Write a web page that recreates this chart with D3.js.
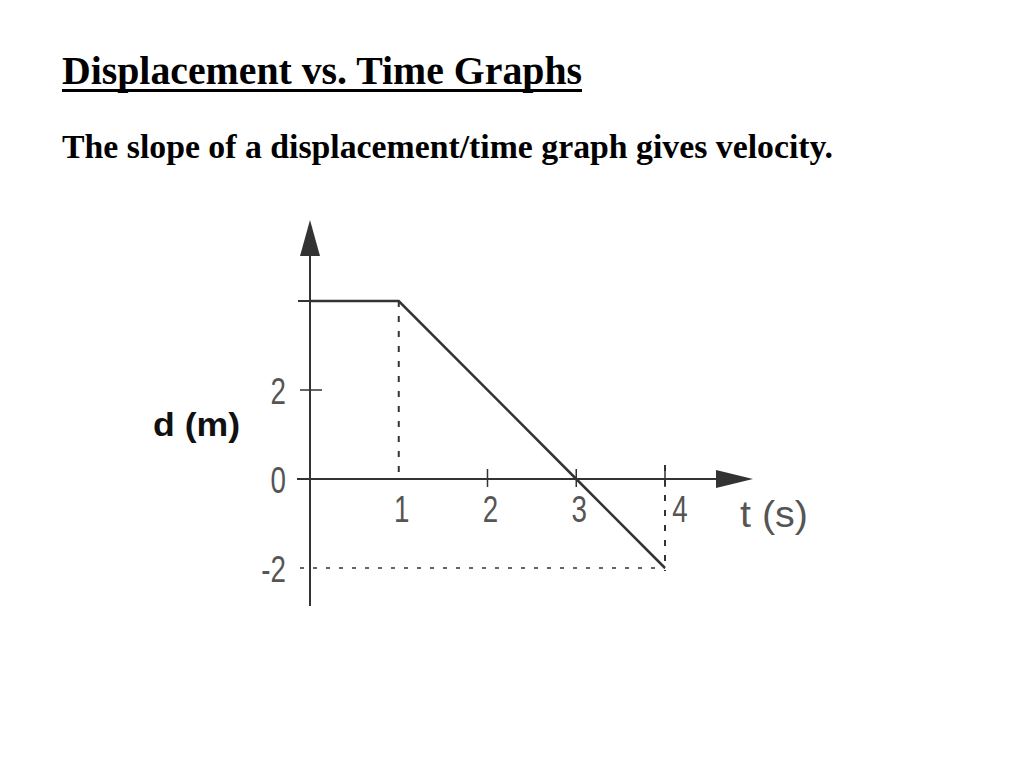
<!DOCTYPE html>
<html>

<head>
  <meta charset="utf-8">
  <title>Displacement vs. Time Graphs</title>
  <style>
    body { margin: 0; background: #fff; }
  </style>
</head>

<body>

  <script src="https://d3js.org/d3.v7.min.js"></script>
  <script>
    const width = 1024;
    const height = 768;

    // the graph: flat at 4 m, then -2 m/s down to -2 m
    const times = [0, 1, 3, 4];
    const displacements = [4, 4, 0, -2];
    const xTicks = [1, 2, 3, 4];
    const yTicks = [-2, 0, 2];
    const yTickLabels = ['-2', '0', '2'];

    const svg = d3.select('body')
      .append('svg')
      .attr('width', width)
      .attr('height', height);

    const x = d3.scaleLinear().domain([0, 4]).range([310, 665]);
    const y = d3.scaleLinear().domain([-2, 4]).range([568, 301]);

    const ink = '#333';
    const serif = '"Liberation Serif", "Times New Roman", serif';

    // title + subtitle
    svg.append('text')
      .attr('x', 62)
      .attr('y', 84)
      .attr('font-family', serif)
      .attr('font-weight', 'bold')
      .attr('font-size', 40)
      .attr('textLength', 520)
      .attr('lengthAdjust', 'spacingAndGlyphs')
      .text('Displacement vs. Time Graphs');

    svg.append('rect')
      .attr('x', 62)
      .attr('y', 89)
      .attr('width', 520)
      .attr('height', 3)
      .attr('fill', '#000');

    svg.append('text')
      .attr('x', 62)
      .attr('y', 158)
      .attr('font-family', serif)
      .attr('font-weight', 'bold')
      .attr('font-size', 34)
      .attr('textLength', 771)
      .attr('lengthAdjust', 'spacingAndGlyphs')
      .text('The slope of a displacement/time graph gives velocity.');

    const g = svg.append('g');

    // axes lines
    g.append('line')
      .attr('x1', x(0)).attr('x2', x(0))
      .attr('y1', y(-2) + 38).attr('y2', 250)
      .attr('stroke', ink).attr('stroke-width', 2);

    g.append('line')
      .attr('x1', x(0) - 13).attr('x2', 720)
      .attr('y1', y(0)).attr('y2', y(0))
      .attr('stroke', ink).attr('stroke-width', 2);

    // arrow heads
    g.append('path')
      .attr('d', `M${x(0)},220 L${x(0) - 10},256 L${x(0) + 10},256 Z`)
      .attr('fill', ink);

    g.append('path')
      .attr('d', `M753,${y(0)} L716,${y(0) - 9} L716,${y(0) + 9} Z`)
      .attr('fill', ink);

    // ticks on the axes
    g.selectAll('.xtick')
      .data([2, 3, 4])
      .join('line')
      .attr('class', 'xtick')
      .attr('x1', (d) => x(d)).attr('x2', (d) => x(d))
      .attr('y1', y(0) - 10).attr('y2', y(0) + 8)
      .attr('stroke', ink).attr('stroke-width', 1.5);

    g.append('line')
      .attr('x1', x(0) - 10).attr('x2', x(0) + 12)
      .attr('y1', y(2)).attr('y2', y(2))
      .attr('stroke', ink).attr('stroke-width', 1.5);

    // guide lines
    g.append('line')
      .attr('x1', x(1)).attr('x2', x(1))
      .attr('y1', y(4)).attr('y2', y(0))
      .attr('stroke', ink).attr('stroke-width', 2)
      .attr('stroke-dasharray', '6,9');

    g.append('line')
      .attr('x1', x(4)).attr('x2', x(4))
      .attr('y1', y(0) - 14).attr('y2', y(-2) + 3)
      .attr('stroke', ink).attr('stroke-width', 2)
      .attr('stroke-dasharray', '6,9');

    g.append('line')
      .attr('x1', x(0) - 10).attr('x2', x(4))
      .attr('y1', y(-2)).attr('y2', y(-2))
      .attr('stroke', ink).attr('stroke-width', 1.5)
      .attr('stroke-dasharray', '4,9');

    // the graph line
    const line = d3.line()
      .x((d, i) => x(times[i]))
      .y((d) => y(d));

    g.append('path')
      .datum(displacements)
      .attr('d', line)
      .attr('fill', 'none')
      .attr('stroke', ink)
      .attr('stroke-width', 2.5);

    // plateau extends a touch left of the axis, like the drawing
    g.append('line')
      .attr('x1', x(0) - 12).attr('x2', x(0))
      .attr('y1', y(4)).attr('y2', y(4))
      .attr('stroke', ink).attr('stroke-width', 2);

    // tick labels
    const labelFont = '"Liberation Sans", Arial, sans-serif';
    const xLabelPos = (d) => x(d) + (d === 4 ? 15 : 3);

    g.selectAll('.xlabel')
      .data(xTicks)
      .join('text')
      .attr('class', 'xlabel')
      .attr('x', xLabelPos)
      .attr('y', y(0) + 43)
      .attr('text-anchor', 'middle')
      .attr('font-family', labelFont)
      .attr('font-size', 37)
      .attr('fill', '#555')
      .attr('transform', (d) => `translate(${xLabelPos(d)},0) scale(0.75,1) translate(${-xLabelPos(d)},0)`)
      .text((d) => d);

    g.selectAll('.ylabel')
      .data(yTicks)
      .join('text')
      .attr('class', 'ylabel')
      .attr('x', 286)
      .attr('y', (d) => y(d) + 14)
      .attr('text-anchor', 'end')
      .attr('font-family', labelFont)
      .attr('font-size', 37)
      .attr('fill', '#555')
      .attr('transform', 'translate(286,0) scale(0.75,1) translate(-286,0)')
      .text((d, i) => yTickLabels[i]);

    // axis titles
    svg.append('text')
      .attr('x', 153)
      .attr('y', 436)
      .attr('font-family', labelFont)
      .attr('font-weight', 'bold')
      .attr('font-size', 33)
      .attr('textLength', 87)
      .attr('lengthAdjust', 'spacingAndGlyphs')
      .attr('fill', '#111')
      .text('d (m)');

    svg.append('text')
      .attr('x', 740)
      .attr('y', 527)
      .attr('font-family', labelFont)
      .attr('font-size', 37)
      .attr('textLength', 68)
      .attr('lengthAdjust', 'spacingAndGlyphs')
      .attr('fill', '#555')
      .text('t (s)');
  </script>

</body>

</html>
